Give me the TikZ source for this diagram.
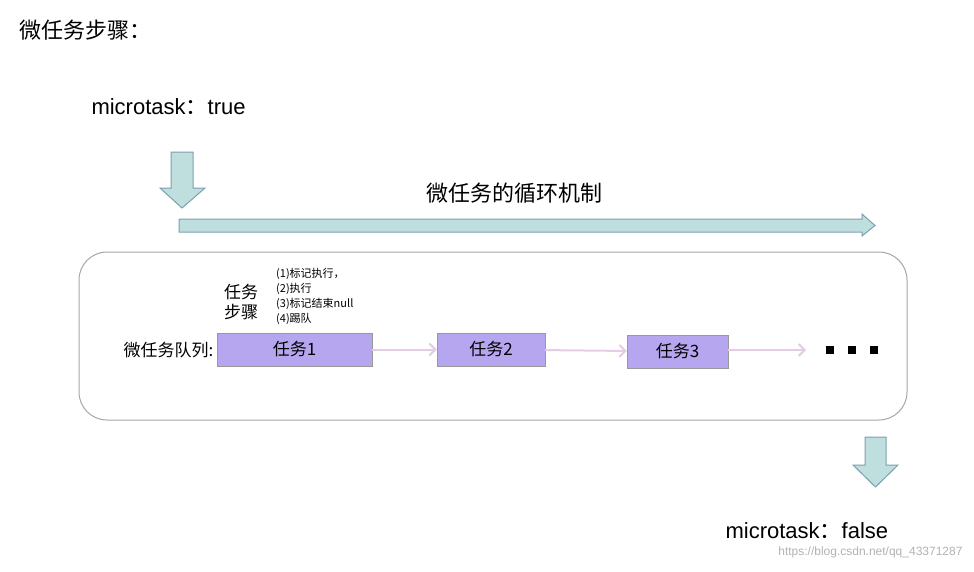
\documentclass[tikz,border=0pt]{standalone}
\usepackage{fontspec}
\setmainfont{Liberation Sans}
\newfontfamily\cjk{Noto Sans CJK SC}
\begin{document}
\begin{tikzpicture}[x=1pt,y=-1pt,
  blk/.style={fill=cyan!25!gray!30,draw=gray!70!cyan,line width=1pt,fill=teal!25},
  task/.style={draw=gray!80,fill=violet!35!blue!35!white,minimum height=33pt,font=\cjk\fontsize{17}{17}\selectfont,inner sep=0pt},
  link/.style={draw=violet!20,line width=2pt,-{Straight Barb[length=6pt,width=12pt]}}]
\useasboundingbox (0,0) rectangle (974,571);
\usetikzlibrary{arrows.meta}
\node[anchor=west,font=\cjk\fontsize{22}{22}\selectfont] (title) at (16,30) {微任务步骤：};
\node[anchor=west,font=\fontsize{22}{22}\selectfont] (mt) at (88,107) {microtask\cjk：\rmfamily true};
\draw[blk] (171,152) -- (193,152) -- (193,188) -- (205,188) -- (182,208) -- (160,188) -- (171,188) -- cycle;
\draw[blk] (179,219) -- (862,219) -- (862,214) -- (875,225.5) -- (862,236) -- (862,232) -- (179,232) -- cycle;
\node[font=\cjk\fontsize{22}{22}\selectfont] (loop) at (514,193) {微任务的循环机制};
\draw[gray!70,line width=1pt,rounded corners=28pt] (79,252) rectangle (907,420);
\node[anchor=east,font=\cjk\fontsize{17}{17}\selectfont] (q) at (217,350) {微任务队列:};
\node[font=\cjk\fontsize{17}{20}\selectfont,align=center] (steps) at (241,302) {任务\\步骤};
\node[anchor=north west,font=\cjk\fontsize{11}{15}\selectfont,align=left,inner sep=0pt] (list) at (276,268) {(1)标记执行，\\(2)执行\\(3)标记结束null\\(4)踢队};
\node[task,minimum width=155pt] (t1) at (294.5,349.5) {任务1};
\node[task,minimum width=108pt] (t2) at (491,349.5) {任务2};
\node[task,minimum width=101pt] (t3) at (677.5,351.5) {任务3};
\coordinate (e) at (806,350);
\draw[link] (t1) -- (t2);
\draw[link] (t2) -- (t3);
\draw[link] (t3.east|-e) -- (e);
\foreach \x in {830,852,874} \fill (\x-4,346) rectangle (\x+4,354);
\draw[blk] (865,437) -- (886,437) -- (886,465) -- (898,465) -- (875.5,487) -- (853,465) -- (865,465) -- cycle;
\node[anchor=west,font=\fontsize{22}{22}\selectfont] (mf) at (722,531) {microtask\cjk：\rmfamily false};
\node[anchor=east,font=\fontsize{12}{12}\selectfont,text=gray!60] (wm) at (966,552) {https://blog.csdn.net/qq\_43371287};
\end{tikzpicture}
\end{document}
